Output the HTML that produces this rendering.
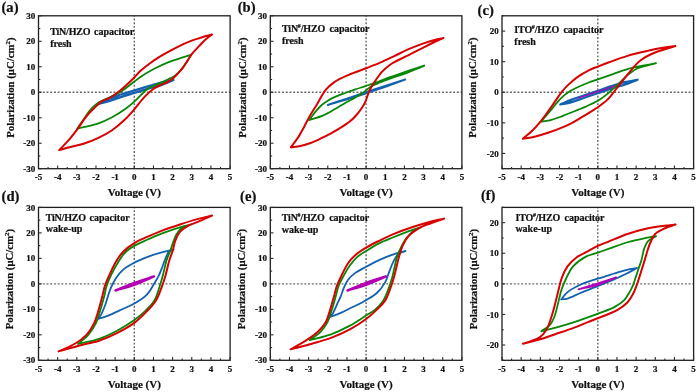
<!DOCTYPE html><html><head><meta charset="utf-8"><style>html,body{margin:0;padding:0;background:#fff;}svg{display:block;will-change:transform;filter:blur(0.25px);}text{font-family:"Liberation Serif",serif;font-weight:bold;fill:#111;stroke:#111;stroke-width:0.22px;}</style></head><body>
<svg width="700" height="392" viewBox="0 0 700 392">
<rect width="700" height="392" fill="#fff"/>
<g>
<line x1="38.50" y1="92.25" x2="230.10" y2="92.25" stroke="#666" stroke-width="1.4" stroke-dasharray="1.9 1.82" stroke-dashoffset="-0.6"/>
<line x1="134.30" y1="15.80" x2="134.30" y2="168.70" stroke="#666" stroke-width="1.4" stroke-dasharray="1.9 1.78" stroke-dashoffset="0.9"/>
<path d="M153.46 86.64 C147.07 88.60 140.68 90.51 134.30 92.50 C127.91 94.50 121.53 96.58 115.14 98.62 C121.53 96.75 127.93 95.00 134.30 93.01 C140.70 91.01 147.07 88.77 153.46 86.64 Z" fill="none" stroke="#b300b3" stroke-width="0.90" stroke-linejoin="round"/>
<path d="M173.58 80.02 C169.43 80.87 165.33 81.54 161.12 82.57 C156.72 83.64 152.18 85.07 147.71 86.39 C143.24 87.71 138.77 89.11 134.30 90.47 C129.83 91.83 125.35 93.10 120.89 94.54 C116.40 95.99 111.63 97.42 107.48 99.13 C103.70 100.68 100.45 102.53 96.94 104.23 C100.45 103.38 103.78 102.76 107.48 101.68 C111.70 100.45 116.40 98.54 120.89 97.09 C125.35 95.65 129.83 94.37 134.30 93.01 C138.77 91.66 143.24 90.26 147.71 88.94 C152.18 87.62 156.78 86.62 161.12 85.11 C165.39 83.64 169.43 81.72 173.58 80.02 Z" fill="none" stroke="#1262b0" stroke-width="2.20" stroke-linejoin="round"/>
<path d="M191.21 54.79 C188.40 55.64 185.94 56.32 182.77 57.34 C178.65 58.67 173.29 60.30 168.60 62.18 C163.77 64.11 158.94 66.33 154.23 68.81 C149.42 71.33 143.67 74.78 140.05 77.21 C137.65 78.82 136.65 79.79 134.30 81.55 C130.59 84.33 124.92 89.24 119.93 92.25 C115.13 95.14 109.04 97.40 104.99 99.39 C102.18 100.76 100.16 101.41 97.90 102.95 C95.41 104.65 93.06 106.81 90.81 109.32 C88.23 112.21 85.85 116.20 83.53 119.52 C81.33 122.65 79.31 125.63 77.20 128.69 C79.31 128.18 80.99 127.78 83.53 127.16 C87.35 126.23 93.19 125.22 97.90 123.59 C102.71 121.93 107.54 119.62 112.07 117.22 C116.54 114.86 121.05 112.07 124.91 109.32 C128.37 106.86 130.91 104.66 134.30 101.68 C138.61 97.88 143.72 91.35 148.48 88.17 C152.29 85.62 156.54 84.64 159.97 83.08 C162.79 81.79 165.23 80.67 167.64 79.51 C169.80 78.46 171.87 77.71 173.77 76.45 C175.70 75.17 177.55 73.44 179.13 71.86 C180.58 70.42 181.68 69.08 182.97 67.40 C184.48 65.42 186.14 62.84 187.56 60.65 C188.87 58.64 189.99 56.74 191.21 54.79 Z" fill="none" stroke="#068806" stroke-width="1.80" stroke-linejoin="round"/>
<path d="M212.09 34.40 C208.07 35.59 204.20 36.61 200.02 37.97 C195.42 39.47 190.36 41.06 185.65 43.07 C180.84 45.12 176.18 47.68 171.47 50.20 C166.66 52.77 161.21 55.77 157.10 58.36 C153.86 60.39 151.45 62.11 148.67 64.22 C145.77 66.42 142.57 68.99 140.05 71.35 C137.87 73.40 136.70 75.09 134.30 77.47 C130.64 81.10 124.49 87.07 119.93 90.72 C116.20 93.70 112.49 96.29 109.20 98.11 C106.67 99.51 104.37 99.75 102.11 101.17 C99.62 102.73 97.44 104.97 95.02 107.29 C92.22 109.97 89.16 113.08 86.40 116.46 C83.39 120.15 80.69 124.79 77.78 128.69 C75.00 132.42 72.37 135.89 69.35 139.39 C66.20 143.04 62.58 146.53 59.19 150.10 C62.58 149.16 65.67 148.26 69.35 147.29 C73.67 146.15 78.83 145.23 83.53 143.73 C88.35 142.19 93.20 140.33 97.90 138.12 C102.72 135.85 107.60 133.29 112.07 130.22 C116.61 127.10 121.07 123.17 124.91 119.52 C128.41 116.19 131.18 112.93 134.30 109.32 C137.63 105.48 140.93 100.62 144.26 97.09 C147.13 94.05 150.03 91.23 152.89 89.19 C155.26 87.50 157.55 86.59 159.97 85.37 C162.46 84.12 165.27 83.13 167.64 81.80 C169.85 80.56 171.87 79.31 173.77 77.72 C175.71 76.10 177.52 73.92 179.13 72.12 C180.55 70.54 181.68 69.25 182.97 67.53 C184.48 65.50 186.14 62.86 187.56 60.65 C188.87 58.63 189.65 56.86 191.21 54.79 C193.24 52.10 196.59 48.77 199.06 46.13 C201.21 43.82 203.01 41.71 205.19 39.75 C207.36 37.81 209.79 36.19 212.09 34.40 Z" fill="none" stroke="#d90000" stroke-width="2.00" stroke-linejoin="round"/>
<rect x="38.50" y="15.80" width="191.60" height="152.90" fill="none" stroke="#1e1e1e" stroke-width="1.3"/>
<line x1="38.50" y1="168.70" x2="38.50" y2="165.50" stroke="#2a2a2a" stroke-width="1.1"/>
<text x="38.50" y="179.90" font-size="9" text-anchor="middle">-5</text>
<line x1="48.08" y1="168.70" x2="48.08" y2="166.90" stroke="#2a2a2a" stroke-width="1.1"/>
<line x1="57.66" y1="168.70" x2="57.66" y2="165.50" stroke="#2a2a2a" stroke-width="1.1"/>
<text x="57.66" y="179.90" font-size="9" text-anchor="middle">-4</text>
<line x1="67.24" y1="168.70" x2="67.24" y2="166.90" stroke="#2a2a2a" stroke-width="1.1"/>
<line x1="76.82" y1="168.70" x2="76.82" y2="165.50" stroke="#2a2a2a" stroke-width="1.1"/>
<text x="76.82" y="179.90" font-size="9" text-anchor="middle">-3</text>
<line x1="86.40" y1="168.70" x2="86.40" y2="166.90" stroke="#2a2a2a" stroke-width="1.1"/>
<line x1="95.98" y1="168.70" x2="95.98" y2="165.50" stroke="#2a2a2a" stroke-width="1.1"/>
<text x="95.98" y="179.90" font-size="9" text-anchor="middle">-2</text>
<line x1="105.56" y1="168.70" x2="105.56" y2="166.90" stroke="#2a2a2a" stroke-width="1.1"/>
<line x1="115.14" y1="168.70" x2="115.14" y2="165.50" stroke="#2a2a2a" stroke-width="1.1"/>
<text x="115.14" y="179.90" font-size="9" text-anchor="middle">-1</text>
<line x1="124.72" y1="168.70" x2="124.72" y2="166.90" stroke="#2a2a2a" stroke-width="1.1"/>
<line x1="134.30" y1="168.70" x2="134.30" y2="165.50" stroke="#2a2a2a" stroke-width="1.1"/>
<text x="134.30" y="179.90" font-size="9" text-anchor="middle">0</text>
<line x1="143.88" y1="168.70" x2="143.88" y2="166.90" stroke="#2a2a2a" stroke-width="1.1"/>
<line x1="153.46" y1="168.70" x2="153.46" y2="165.50" stroke="#2a2a2a" stroke-width="1.1"/>
<text x="153.46" y="179.90" font-size="9" text-anchor="middle">1</text>
<line x1="163.04" y1="168.70" x2="163.04" y2="166.90" stroke="#2a2a2a" stroke-width="1.1"/>
<line x1="172.62" y1="168.70" x2="172.62" y2="165.50" stroke="#2a2a2a" stroke-width="1.1"/>
<text x="172.62" y="179.90" font-size="9" text-anchor="middle">2</text>
<line x1="182.20" y1="168.70" x2="182.20" y2="166.90" stroke="#2a2a2a" stroke-width="1.1"/>
<line x1="191.78" y1="168.70" x2="191.78" y2="165.50" stroke="#2a2a2a" stroke-width="1.1"/>
<text x="191.78" y="179.90" font-size="9" text-anchor="middle">3</text>
<line x1="201.36" y1="168.70" x2="201.36" y2="166.90" stroke="#2a2a2a" stroke-width="1.1"/>
<line x1="210.94" y1="168.70" x2="210.94" y2="165.50" stroke="#2a2a2a" stroke-width="1.1"/>
<text x="210.94" y="179.90" font-size="9" text-anchor="middle">4</text>
<line x1="220.52" y1="168.70" x2="220.52" y2="166.90" stroke="#2a2a2a" stroke-width="1.1"/>
<line x1="230.10" y1="168.70" x2="230.10" y2="165.50" stroke="#2a2a2a" stroke-width="1.1"/>
<text x="230.10" y="179.90" font-size="9" text-anchor="middle">5</text>
<line x1="38.50" y1="168.70" x2="41.70" y2="168.70" stroke="#2a2a2a" stroke-width="1.1"/>
<text x="35.30" y="171.80" font-size="9" text-anchor="end">-30</text>
<line x1="38.50" y1="155.96" x2="40.30" y2="155.96" stroke="#2a2a2a" stroke-width="1.1"/>
<line x1="38.50" y1="143.22" x2="41.70" y2="143.22" stroke="#2a2a2a" stroke-width="1.1"/>
<text x="35.30" y="146.32" font-size="9" text-anchor="end">-20</text>
<line x1="38.50" y1="130.48" x2="40.30" y2="130.48" stroke="#2a2a2a" stroke-width="1.1"/>
<line x1="38.50" y1="117.73" x2="41.70" y2="117.73" stroke="#2a2a2a" stroke-width="1.1"/>
<text x="35.30" y="120.83" font-size="9" text-anchor="end">-10</text>
<line x1="38.50" y1="104.99" x2="40.30" y2="104.99" stroke="#2a2a2a" stroke-width="1.1"/>
<line x1="38.50" y1="92.25" x2="41.70" y2="92.25" stroke="#2a2a2a" stroke-width="1.1"/>
<text x="35.30" y="95.35" font-size="9" text-anchor="end">0</text>
<line x1="38.50" y1="79.51" x2="40.30" y2="79.51" stroke="#2a2a2a" stroke-width="1.1"/>
<line x1="38.50" y1="66.77" x2="41.70" y2="66.77" stroke="#2a2a2a" stroke-width="1.1"/>
<text x="35.30" y="69.87" font-size="9" text-anchor="end">10</text>
<line x1="38.50" y1="54.03" x2="40.30" y2="54.03" stroke="#2a2a2a" stroke-width="1.1"/>
<line x1="38.50" y1="41.28" x2="41.70" y2="41.28" stroke="#2a2a2a" stroke-width="1.1"/>
<text x="35.30" y="44.38" font-size="9" text-anchor="end">20</text>
<line x1="38.50" y1="28.54" x2="40.30" y2="28.54" stroke="#2a2a2a" stroke-width="1.1"/>
<line x1="38.50" y1="15.80" x2="41.70" y2="15.80" stroke="#2a2a2a" stroke-width="1.1"/>
<text x="35.30" y="18.90" font-size="9" text-anchor="end">30</text>
<text x="134.30" y="196.10" font-size="11" text-anchor="middle">Voltage (V)</text>
<text transform="translate(13.80 87.60) rotate(-90)" font-size="10.8" text-anchor="middle">Polarization (μC/cm<tspan font-size="7" dy="-4">2</tspan><tspan dy="4">)</tspan></text>
<text x="50.20" y="34.60" font-size="10"><tspan letter-spacing="-0.2">TiN/HZO</tspan><tspan dx="3.8">capacitor</tspan></text>
<text x="50.20" y="46.60" font-size="10">fresh</text>
<text x="1.50" y="12.10" font-size="14.6">(a)</text>
</g>
<g>
<line x1="270.30" y1="92.25" x2="461.90" y2="92.25" stroke="#666" stroke-width="1.4" stroke-dasharray="1.9 1.82" stroke-dashoffset="-0.6"/>
<line x1="366.10" y1="15.80" x2="366.10" y2="168.70" stroke="#666" stroke-width="1.4" stroke-dasharray="1.9 1.78" stroke-dashoffset="0.9"/>
<path d="M385.26 86.90 C378.87 88.85 372.48 90.77 366.10 92.76 C359.71 94.76 353.33 96.84 346.94 98.88 C353.33 97.01 359.73 95.26 366.10 93.27 C372.50 91.27 378.87 89.02 385.26 86.90 Z" fill="none" stroke="#b300b3" stroke-width="0.80" stroke-linejoin="round"/>
<path d="M405.19 79.51 C398.54 81.63 391.83 83.74 385.26 85.88 C378.80 87.98 372.49 90.13 366.10 92.25 C359.71 94.37 353.33 96.50 346.94 98.62 C340.55 100.74 334.17 102.87 327.78 104.99 C334.17 103.12 340.57 101.34 346.94 99.39 C353.34 97.43 359.72 95.35 366.10 93.27 C372.49 91.19 378.83 89.16 385.26 86.90 C391.86 84.58 398.54 81.97 405.19 79.51 Z" fill="none" stroke="#1262b0" stroke-width="2.00" stroke-linejoin="round"/>
<path d="M424.15 65.49 C418.85 67.28 413.73 68.97 408.25 70.84 C402.38 72.86 395.58 75.21 390.05 77.21 C385.39 78.91 381.35 80.57 377.21 82.06 C373.39 83.44 369.77 84.64 366.10 85.88 C362.50 87.10 358.89 88.24 355.37 89.45 C351.93 90.62 348.59 91.79 345.22 93.01 C341.82 94.25 338.13 95.46 335.06 96.84 C332.39 98.03 330.02 99.28 327.78 100.66 C325.71 101.93 323.92 103.11 322.03 104.74 C319.88 106.59 317.76 108.94 315.71 111.36 C313.47 114.00 311.37 117.14 309.19 120.03 C313.73 118.58 318.46 117.54 322.80 115.69 C327.08 113.87 331.19 111.28 335.06 109.07 C338.63 107.03 341.81 104.92 345.22 102.95 C348.58 101.01 352.18 99.21 355.37 97.35 C358.28 95.64 361.02 94.07 363.61 92.25 C366.11 90.49 368.30 88.13 370.70 86.64 C372.84 85.32 374.65 84.67 377.21 83.59 C380.75 82.09 385.39 80.44 390.05 78.74 C395.58 76.73 402.41 74.56 408.25 72.37 C413.76 70.31 418.85 68.13 424.15 66.00 Z" fill="none" stroke="#068806" stroke-width="1.80" stroke-linejoin="round"/>
<path d="M443.51 37.97 C441.40 38.40 439.70 38.61 437.18 39.24 C433.34 40.21 427.55 41.93 422.81 43.58 C418.04 45.24 413.34 47.13 408.64 49.18 C403.82 51.28 399.04 53.80 394.27 56.06 C389.53 58.30 384.83 60.63 380.09 62.69 C375.44 64.71 371.03 66.37 366.10 68.30 C360.62 70.44 354.14 72.53 348.66 74.92 C343.59 77.14 338.32 79.30 334.29 82.06 C330.86 84.41 328.33 86.71 325.67 89.96 C322.49 93.84 319.79 99.74 317.05 104.23 C314.58 108.27 312.14 111.88 309.96 115.69 C307.87 119.35 306.14 123.10 304.21 126.65 C302.37 130.06 300.78 133.28 298.66 136.59 C296.36 140.16 293.42 143.73 290.80 147.29 C293.99 146.87 297.17 146.71 300.38 146.02 C303.75 145.29 307.17 144.21 310.54 142.96 C314.01 141.67 317.47 139.99 320.88 138.37 C324.30 136.76 327.68 135.09 331.04 133.28 C334.45 131.44 338.02 129.41 341.19 127.42 C344.12 125.58 346.98 123.78 349.43 121.81 C351.65 120.03 353.44 118.29 355.37 116.20 C357.48 113.92 359.76 111.14 361.50 108.56 C363.09 106.20 364.48 103.76 365.53 101.42 C366.46 99.35 366.87 97.34 367.63 95.31 C368.40 93.26 369.08 91.25 370.12 89.19 C371.27 86.92 372.70 84.78 374.34 82.31 C376.35 79.27 378.76 75.34 381.43 72.37 C384.02 69.49 387.61 66.52 390.05 64.73 C391.64 63.56 392.41 63.20 394.27 62.18 C397.60 60.35 403.86 57.43 408.64 55.04 C413.38 52.67 418.07 50.28 422.81 47.91 C427.58 45.52 433.35 42.58 437.18 40.77 C439.70 39.59 441.40 38.90 443.51 37.97 Z" fill="none" stroke="#d90000" stroke-width="2.00" stroke-linejoin="round"/>
<rect x="270.30" y="15.80" width="191.60" height="152.90" fill="none" stroke="#1e1e1e" stroke-width="1.3"/>
<line x1="270.30" y1="168.70" x2="270.30" y2="165.50" stroke="#2a2a2a" stroke-width="1.1"/>
<text x="270.30" y="179.90" font-size="9" text-anchor="middle">-5</text>
<line x1="279.88" y1="168.70" x2="279.88" y2="166.90" stroke="#2a2a2a" stroke-width="1.1"/>
<line x1="289.46" y1="168.70" x2="289.46" y2="165.50" stroke="#2a2a2a" stroke-width="1.1"/>
<text x="289.46" y="179.90" font-size="9" text-anchor="middle">-4</text>
<line x1="299.04" y1="168.70" x2="299.04" y2="166.90" stroke="#2a2a2a" stroke-width="1.1"/>
<line x1="308.62" y1="168.70" x2="308.62" y2="165.50" stroke="#2a2a2a" stroke-width="1.1"/>
<text x="308.62" y="179.90" font-size="9" text-anchor="middle">-3</text>
<line x1="318.20" y1="168.70" x2="318.20" y2="166.90" stroke="#2a2a2a" stroke-width="1.1"/>
<line x1="327.78" y1="168.70" x2="327.78" y2="165.50" stroke="#2a2a2a" stroke-width="1.1"/>
<text x="327.78" y="179.90" font-size="9" text-anchor="middle">-2</text>
<line x1="337.36" y1="168.70" x2="337.36" y2="166.90" stroke="#2a2a2a" stroke-width="1.1"/>
<line x1="346.94" y1="168.70" x2="346.94" y2="165.50" stroke="#2a2a2a" stroke-width="1.1"/>
<text x="346.94" y="179.90" font-size="9" text-anchor="middle">-1</text>
<line x1="356.52" y1="168.70" x2="356.52" y2="166.90" stroke="#2a2a2a" stroke-width="1.1"/>
<line x1="366.10" y1="168.70" x2="366.10" y2="165.50" stroke="#2a2a2a" stroke-width="1.1"/>
<text x="366.10" y="179.90" font-size="9" text-anchor="middle">0</text>
<line x1="375.68" y1="168.70" x2="375.68" y2="166.90" stroke="#2a2a2a" stroke-width="1.1"/>
<line x1="385.26" y1="168.70" x2="385.26" y2="165.50" stroke="#2a2a2a" stroke-width="1.1"/>
<text x="385.26" y="179.90" font-size="9" text-anchor="middle">1</text>
<line x1="394.84" y1="168.70" x2="394.84" y2="166.90" stroke="#2a2a2a" stroke-width="1.1"/>
<line x1="404.42" y1="168.70" x2="404.42" y2="165.50" stroke="#2a2a2a" stroke-width="1.1"/>
<text x="404.42" y="179.90" font-size="9" text-anchor="middle">2</text>
<line x1="414.00" y1="168.70" x2="414.00" y2="166.90" stroke="#2a2a2a" stroke-width="1.1"/>
<line x1="423.58" y1="168.70" x2="423.58" y2="165.50" stroke="#2a2a2a" stroke-width="1.1"/>
<text x="423.58" y="179.90" font-size="9" text-anchor="middle">3</text>
<line x1="433.16" y1="168.70" x2="433.16" y2="166.90" stroke="#2a2a2a" stroke-width="1.1"/>
<line x1="442.74" y1="168.70" x2="442.74" y2="165.50" stroke="#2a2a2a" stroke-width="1.1"/>
<text x="442.74" y="179.90" font-size="9" text-anchor="middle">4</text>
<line x1="452.32" y1="168.70" x2="452.32" y2="166.90" stroke="#2a2a2a" stroke-width="1.1"/>
<line x1="461.90" y1="168.70" x2="461.90" y2="165.50" stroke="#2a2a2a" stroke-width="1.1"/>
<text x="461.90" y="179.90" font-size="9" text-anchor="middle">5</text>
<line x1="270.30" y1="168.70" x2="273.50" y2="168.70" stroke="#2a2a2a" stroke-width="1.1"/>
<text x="267.10" y="171.80" font-size="9" text-anchor="end">-30</text>
<line x1="270.30" y1="155.96" x2="272.10" y2="155.96" stroke="#2a2a2a" stroke-width="1.1"/>
<line x1="270.30" y1="143.22" x2="273.50" y2="143.22" stroke="#2a2a2a" stroke-width="1.1"/>
<text x="267.10" y="146.32" font-size="9" text-anchor="end">-20</text>
<line x1="270.30" y1="130.48" x2="272.10" y2="130.48" stroke="#2a2a2a" stroke-width="1.1"/>
<line x1="270.30" y1="117.73" x2="273.50" y2="117.73" stroke="#2a2a2a" stroke-width="1.1"/>
<text x="267.10" y="120.83" font-size="9" text-anchor="end">-10</text>
<line x1="270.30" y1="104.99" x2="272.10" y2="104.99" stroke="#2a2a2a" stroke-width="1.1"/>
<line x1="270.30" y1="92.25" x2="273.50" y2="92.25" stroke="#2a2a2a" stroke-width="1.1"/>
<text x="267.10" y="95.35" font-size="9" text-anchor="end">0</text>
<line x1="270.30" y1="79.51" x2="272.10" y2="79.51" stroke="#2a2a2a" stroke-width="1.1"/>
<line x1="270.30" y1="66.77" x2="273.50" y2="66.77" stroke="#2a2a2a" stroke-width="1.1"/>
<text x="267.10" y="69.87" font-size="9" text-anchor="end">10</text>
<line x1="270.30" y1="54.03" x2="272.10" y2="54.03" stroke="#2a2a2a" stroke-width="1.1"/>
<line x1="270.30" y1="41.28" x2="273.50" y2="41.28" stroke="#2a2a2a" stroke-width="1.1"/>
<text x="267.10" y="44.38" font-size="9" text-anchor="end">20</text>
<line x1="270.30" y1="28.54" x2="272.10" y2="28.54" stroke="#2a2a2a" stroke-width="1.1"/>
<line x1="270.30" y1="15.80" x2="273.50" y2="15.80" stroke="#2a2a2a" stroke-width="1.1"/>
<text x="267.10" y="18.90" font-size="9" text-anchor="end">30</text>
<text x="366.10" y="196.10" font-size="11" text-anchor="middle">Voltage (V)</text>
<text transform="translate(245.80 87.60) rotate(-90)" font-size="10.8" text-anchor="middle">Polarization (μC/cm<tspan font-size="7" dy="-4">2</tspan><tspan dy="4">)</tspan></text>
<text x="282.00" y="32.10" font-size="10"><tspan letter-spacing="-0.15">TiN</tspan><tspan font-size="5.8" dy="-4" dx="-0.2">#</tspan><tspan dy="4" dx="-0.1" letter-spacing="-0.15">/HZO</tspan><tspan dx="4.4">capacitor</tspan></text>
<text x="282.00" y="44.10" font-size="10">fresh</text>
<text x="237.70" y="12.10" font-size="14.6">(b)</text>
</g>
<g>
<line x1="502.00" y1="92.25" x2="693.60" y2="92.25" stroke="#666" stroke-width="1.4" stroke-dasharray="1.9 1.82" stroke-dashoffset="-0.6"/>
<line x1="597.80" y1="15.80" x2="597.80" y2="168.70" stroke="#666" stroke-width="1.4" stroke-dasharray="1.9 1.78" stroke-dashoffset="0.9"/>
<path d="M637.65 79.71 C633.31 80.53 628.97 81.11 624.62 82.16 C620.16 83.24 615.67 84.71 611.21 86.13 C606.73 87.57 602.27 89.19 597.80 90.72 C593.33 92.25 588.86 93.78 584.39 95.31 C579.92 96.84 575.17 98.28 570.98 99.90 C567.17 101.36 563.82 102.95 560.25 104.48 C563.82 103.77 567.24 103.35 570.98 102.34 C575.23 101.19 579.92 99.28 584.39 97.75 C588.86 96.23 593.33 94.70 597.80 93.17 C602.27 91.64 606.73 90.01 611.21 88.58 C615.67 87.16 620.21 86.09 624.62 84.61 C629.03 83.13 633.31 81.34 637.65 79.71 Z" fill="none" stroke="#1262b0" stroke-width="2.20" stroke-linejoin="round"/>
<path d="M616.96 85.22 C610.57 87.26 604.26 89.22 597.80 91.33 C591.17 93.50 584.39 95.82 577.68 98.06 C584.39 96.02 591.20 94.11 597.80 91.94 C604.29 89.82 610.57 87.46 616.96 85.22 Z" fill="none" stroke="#b300b3" stroke-width="0.80" stroke-linejoin="round"/>
<path d="M656.05 63.20 C652.66 63.81 649.77 64.26 645.89 65.03 C640.66 66.07 633.50 67.32 627.50 69.01 C621.55 70.69 615.36 73.27 610.06 75.13 C605.62 76.68 601.63 78.06 597.80 79.41 C594.41 80.59 591.44 81.53 588.22 82.77 C584.86 84.07 581.21 85.60 578.07 87.05 C575.25 88.35 572.77 89.42 570.21 91.03 C567.46 92.75 564.62 94.92 562.16 97.14 C559.77 99.31 557.80 101.70 555.65 104.18 C553.39 106.78 551.28 109.62 548.94 112.43 C546.45 115.43 543.70 118.55 541.09 121.61 C543.51 121.30 545.68 121.27 548.37 120.69 C551.83 119.93 556.72 118.23 560.05 117.02 C562.62 116.09 564.21 115.29 566.76 114.27 C570.11 112.92 575.09 111.03 578.45 109.68 C581.00 108.66 582.59 108.07 585.15 106.93 C588.73 105.33 593.99 103.08 597.80 100.81 C601.26 98.76 604.00 96.66 607.19 94.08 C610.82 91.15 614.80 87.27 618.30 83.99 C621.54 80.97 624.33 77.73 627.50 75.13 C630.47 72.68 633.50 70.25 636.69 68.70 C639.65 67.28 642.74 66.85 645.89 65.95 C649.19 65.01 652.66 64.12 656.05 63.20 Z" fill="none" stroke="#068806" stroke-width="1.80" stroke-linejoin="round"/>
<path d="M675.40 46.07 C671.69 46.58 668.44 46.90 664.29 47.60 C658.91 48.51 652.01 49.90 645.89 51.27 C639.74 52.65 633.59 54.04 627.50 55.86 C621.32 57.70 614.48 60.32 609.10 62.28 C604.87 63.82 601.40 65.13 597.80 66.56 C594.46 67.89 591.40 68.93 588.22 70.54 C584.82 72.26 581.32 74.35 578.07 76.65 C574.73 79.02 571.28 81.98 568.49 84.61 C566.08 86.87 564.24 88.78 562.16 91.33 C559.76 94.28 557.44 98.06 555.07 101.42 C552.71 104.79 550.39 108.19 547.98 111.52 C545.60 114.82 543.28 118.15 540.70 121.30 C538.11 124.47 535.41 127.59 532.46 130.48 C529.48 133.40 526.08 135.98 522.88 138.73 C526.08 138.22 528.79 138.04 532.46 137.20 C537.64 136.02 544.77 133.82 550.86 131.70 C557.04 129.55 563.94 126.91 569.25 124.36 C573.56 122.29 576.96 120.05 580.56 117.94 C583.90 115.98 587.13 114.00 590.14 112.13 C592.84 110.44 595.16 109.10 597.80 107.23 C600.82 105.10 604.55 102.43 607.19 99.90 C609.47 97.71 611.08 95.46 612.94 93.17 C614.79 90.87 616.34 88.62 618.30 86.13 C620.57 83.26 623.31 80.03 625.77 76.96 C628.23 73.91 630.55 70.61 633.05 67.79 C635.41 65.13 637.48 62.64 640.34 60.45 C643.51 58.00 647.52 55.84 651.45 54.03 C655.49 52.15 660.14 50.80 664.29 49.44 C668.11 48.18 671.69 47.20 675.40 46.07 Z" fill="none" stroke="#d90000" stroke-width="2.00" stroke-linejoin="round"/>
<rect x="502.00" y="15.80" width="191.60" height="152.90" fill="none" stroke="#1e1e1e" stroke-width="1.3"/>
<line x1="502.00" y1="168.70" x2="502.00" y2="165.50" stroke="#2a2a2a" stroke-width="1.1"/>
<text x="502.00" y="179.90" font-size="9" text-anchor="middle">-5</text>
<line x1="511.58" y1="168.70" x2="511.58" y2="166.90" stroke="#2a2a2a" stroke-width="1.1"/>
<line x1="521.16" y1="168.70" x2="521.16" y2="165.50" stroke="#2a2a2a" stroke-width="1.1"/>
<text x="521.16" y="179.90" font-size="9" text-anchor="middle">-4</text>
<line x1="530.74" y1="168.70" x2="530.74" y2="166.90" stroke="#2a2a2a" stroke-width="1.1"/>
<line x1="540.32" y1="168.70" x2="540.32" y2="165.50" stroke="#2a2a2a" stroke-width="1.1"/>
<text x="540.32" y="179.90" font-size="9" text-anchor="middle">-3</text>
<line x1="549.90" y1="168.70" x2="549.90" y2="166.90" stroke="#2a2a2a" stroke-width="1.1"/>
<line x1="559.48" y1="168.70" x2="559.48" y2="165.50" stroke="#2a2a2a" stroke-width="1.1"/>
<text x="559.48" y="179.90" font-size="9" text-anchor="middle">-2</text>
<line x1="569.06" y1="168.70" x2="569.06" y2="166.90" stroke="#2a2a2a" stroke-width="1.1"/>
<line x1="578.64" y1="168.70" x2="578.64" y2="165.50" stroke="#2a2a2a" stroke-width="1.1"/>
<text x="578.64" y="179.90" font-size="9" text-anchor="middle">-1</text>
<line x1="588.22" y1="168.70" x2="588.22" y2="166.90" stroke="#2a2a2a" stroke-width="1.1"/>
<line x1="597.80" y1="168.70" x2="597.80" y2="165.50" stroke="#2a2a2a" stroke-width="1.1"/>
<text x="597.80" y="179.90" font-size="9" text-anchor="middle">0</text>
<line x1="607.38" y1="168.70" x2="607.38" y2="166.90" stroke="#2a2a2a" stroke-width="1.1"/>
<line x1="616.96" y1="168.70" x2="616.96" y2="165.50" stroke="#2a2a2a" stroke-width="1.1"/>
<text x="616.96" y="179.90" font-size="9" text-anchor="middle">1</text>
<line x1="626.54" y1="168.70" x2="626.54" y2="166.90" stroke="#2a2a2a" stroke-width="1.1"/>
<line x1="636.12" y1="168.70" x2="636.12" y2="165.50" stroke="#2a2a2a" stroke-width="1.1"/>
<text x="636.12" y="179.90" font-size="9" text-anchor="middle">2</text>
<line x1="645.70" y1="168.70" x2="645.70" y2="166.90" stroke="#2a2a2a" stroke-width="1.1"/>
<line x1="655.28" y1="168.70" x2="655.28" y2="165.50" stroke="#2a2a2a" stroke-width="1.1"/>
<text x="655.28" y="179.90" font-size="9" text-anchor="middle">3</text>
<line x1="664.86" y1="168.70" x2="664.86" y2="166.90" stroke="#2a2a2a" stroke-width="1.1"/>
<line x1="674.44" y1="168.70" x2="674.44" y2="165.50" stroke="#2a2a2a" stroke-width="1.1"/>
<text x="674.44" y="179.90" font-size="9" text-anchor="middle">4</text>
<line x1="684.02" y1="168.70" x2="684.02" y2="166.90" stroke="#2a2a2a" stroke-width="1.1"/>
<line x1="693.60" y1="168.70" x2="693.60" y2="165.50" stroke="#2a2a2a" stroke-width="1.1"/>
<text x="693.60" y="179.90" font-size="9" text-anchor="middle">5</text>
<line x1="502.00" y1="168.70" x2="503.80" y2="168.70" stroke="#2a2a2a" stroke-width="1.1"/>
<line x1="502.00" y1="153.41" x2="505.20" y2="153.41" stroke="#2a2a2a" stroke-width="1.1"/>
<text x="498.80" y="156.51" font-size="9" text-anchor="end">-20</text>
<line x1="502.00" y1="138.12" x2="503.80" y2="138.12" stroke="#2a2a2a" stroke-width="1.1"/>
<line x1="502.00" y1="122.83" x2="505.20" y2="122.83" stroke="#2a2a2a" stroke-width="1.1"/>
<text x="498.80" y="125.93" font-size="9" text-anchor="end">-10</text>
<line x1="502.00" y1="107.54" x2="503.80" y2="107.54" stroke="#2a2a2a" stroke-width="1.1"/>
<line x1="502.00" y1="92.25" x2="505.20" y2="92.25" stroke="#2a2a2a" stroke-width="1.1"/>
<text x="498.80" y="95.35" font-size="9" text-anchor="end">0</text>
<line x1="502.00" y1="76.96" x2="503.80" y2="76.96" stroke="#2a2a2a" stroke-width="1.1"/>
<line x1="502.00" y1="61.67" x2="505.20" y2="61.67" stroke="#2a2a2a" stroke-width="1.1"/>
<text x="498.80" y="64.77" font-size="9" text-anchor="end">10</text>
<line x1="502.00" y1="46.38" x2="503.80" y2="46.38" stroke="#2a2a2a" stroke-width="1.1"/>
<line x1="502.00" y1="31.09" x2="505.20" y2="31.09" stroke="#2a2a2a" stroke-width="1.1"/>
<text x="498.80" y="34.19" font-size="9" text-anchor="end">20</text>
<line x1="502.00" y1="15.80" x2="503.80" y2="15.80" stroke="#2a2a2a" stroke-width="1.1"/>
<text x="597.80" y="196.10" font-size="11" text-anchor="middle">Voltage (V)</text>
<text transform="translate(476.30 87.60) rotate(-90)" font-size="10.8" text-anchor="middle">Polarization (μC/cm<tspan font-size="7" dy="-4">2</tspan><tspan dy="4">)</tspan></text>
<text x="514.30" y="32.90" font-size="10"><tspan letter-spacing="-0.15">ITO</tspan><tspan font-size="5.8" dy="-4" dx="-0.2">#</tspan><tspan dy="4" dx="-0.1" letter-spacing="-0.15">/HZO</tspan><tspan dx="4.4">capacitor</tspan></text>
<text x="514.30" y="44.90" font-size="10">fresh</text>
<text x="477.60" y="14.80" font-size="14.6">(c)</text>
</g>
<g>
<line x1="38.50" y1="283.85" x2="230.10" y2="283.85" stroke="#666" stroke-width="1.4" stroke-dasharray="1.9 1.82" stroke-dashoffset="-0.6"/>
<line x1="134.30" y1="207.40" x2="134.30" y2="360.30" stroke="#666" stroke-width="1.4" stroke-dasharray="1.9 1.78" stroke-dashoffset="0.9"/>
<path d="M173.58 249.70 C169.04 250.72 164.41 251.52 159.97 252.76 C155.60 253.99 151.38 255.45 147.14 257.09 C142.82 258.76 138.35 260.57 134.30 262.70 C130.38 264.75 126.32 266.87 123.19 269.58 C120.27 272.10 118.02 275.05 115.91 278.24 C113.71 281.57 112.00 285.21 110.35 289.20 C108.50 293.69 107.24 299.46 105.56 303.98 C104.09 307.94 102.41 312.22 100.96 314.94 C100.03 316.68 99.17 317.66 98.28 319.02 C101.60 317.91 104.88 317.04 108.24 315.70 C111.84 314.27 115.23 312.45 119.16 310.61 C123.80 308.43 129.61 306.19 134.30 303.47 C138.77 300.89 143.40 298.23 146.75 294.81 C149.87 291.62 151.97 287.14 154.03 283.85 C155.67 281.24 157.01 279.18 158.25 276.71 C159.50 274.25 160.43 271.75 161.51 269.07 C162.67 266.16 163.70 262.81 164.96 259.90 C166.14 257.14 167.07 253.70 168.79 252.00 C170.12 250.67 171.98 250.47 173.58 249.70 Z" fill="none" stroke="#1262b0" stroke-width="1.80" stroke-linejoin="round"/>
<path d="M191.01 224.47 C187.31 225.41 184.04 226.04 179.90 227.28 C174.51 228.89 167.23 231.44 161.51 233.65 C156.39 235.62 151.77 237.68 147.14 239.76 C142.72 241.76 138.13 243.61 134.30 245.88 C130.88 247.91 127.80 249.80 125.10 252.51 C122.27 255.35 120.08 259.09 117.82 262.70 C115.47 266.46 113.21 270.72 111.31 274.68 C109.54 278.36 107.92 281.89 106.71 285.63 C105.50 289.36 105.07 293.10 104.03 297.10 C102.87 301.55 101.46 306.55 100.00 311.12 C98.58 315.55 97.42 320.08 95.41 324.11 C93.44 328.05 91.00 331.78 88.12 335.07 C85.21 338.41 81.35 341.02 77.97 343.99 C84.99 342.29 92.36 341.21 99.05 338.89 C105.50 336.66 111.54 333.65 117.44 330.48 C123.28 327.35 129.44 323.52 134.30 320.04 C138.33 317.15 141.53 314.58 144.84 311.37 C148.25 308.06 152.01 304.44 154.42 300.41 C156.75 296.52 157.77 291.97 159.21 287.67 C160.64 283.39 161.83 279.16 163.04 274.68 C164.33 269.92 165.34 264.06 166.68 259.90 C167.70 256.74 168.94 254.45 169.94 251.74 C170.91 249.10 171.62 246.56 172.62 243.84 C173.71 240.88 174.65 237.36 176.26 234.67 C177.77 232.14 179.47 229.72 181.82 228.04 C184.32 226.25 187.95 225.66 191.01 224.47 Z" fill="none" stroke="#068806" stroke-width="1.80" stroke-linejoin="round"/>
<path d="M212.09 215.55 C207.49 216.66 203.20 217.53 198.29 218.87 C192.58 220.42 186.01 222.48 179.90 224.47 C173.75 226.48 167.23 228.64 161.51 230.84 C156.39 232.82 151.77 234.87 147.14 236.96 C142.72 238.95 138.30 240.61 134.30 243.08 C130.32 245.54 126.32 248.51 123.19 251.74 C120.26 254.76 118.10 258.04 115.91 261.68 C113.53 265.62 111.47 270.50 109.58 274.68 C107.87 278.46 106.23 281.89 104.99 285.63 C103.74 289.37 103.16 293.09 102.11 297.10 C100.95 301.54 99.71 306.56 98.28 311.12 C96.89 315.56 95.72 320.09 93.68 324.11 C91.68 328.06 89.23 331.87 86.21 335.07 C83.12 338.34 79.47 340.92 75.29 343.48 C70.45 346.44 64.17 348.75 58.62 351.38 C65.96 349.34 73.63 347.12 80.65 345.26 C87.05 343.58 93.00 342.72 99.05 340.68 C105.26 338.58 111.53 335.77 117.44 332.78 C123.28 329.82 129.28 326.57 134.30 322.84 C138.97 319.37 143.03 315.27 146.75 311.37 C150.18 307.79 153.48 304.40 155.95 300.41 C158.38 296.49 159.89 291.91 161.51 287.67 C163.06 283.59 164.29 279.72 165.53 275.44 C166.87 270.83 167.87 265.27 169.17 260.92 C170.26 257.26 171.60 254.35 172.62 250.98 C173.65 247.56 174.04 243.78 175.30 240.53 C176.50 237.43 177.87 234.27 179.90 231.86 C181.86 229.54 184.38 227.88 187.18 226.26 C190.39 224.40 194.40 223.34 198.29 221.67 C202.66 219.80 207.49 217.59 212.09 215.55 Z" fill="none" stroke="#d90000" stroke-width="2.00" stroke-linejoin="round"/>
<path d="M154.03 276.46 C147.46 278.58 140.75 280.48 134.30 282.83 C127.92 285.16 121.78 287.93 115.52 290.48 C121.78 288.61 128.03 287.13 134.30 284.87 C140.86 282.50 147.46 279.26 154.03 276.46 Z" fill="none" stroke="#b300b3" stroke-width="2.40" stroke-linejoin="round"/>
<rect x="38.50" y="207.40" width="191.60" height="152.90" fill="none" stroke="#1e1e1e" stroke-width="1.3"/>
<line x1="38.50" y1="360.30" x2="38.50" y2="357.10" stroke="#2a2a2a" stroke-width="1.1"/>
<text x="38.50" y="371.50" font-size="9" text-anchor="middle">-5</text>
<line x1="48.08" y1="360.30" x2="48.08" y2="358.50" stroke="#2a2a2a" stroke-width="1.1"/>
<line x1="57.66" y1="360.30" x2="57.66" y2="357.10" stroke="#2a2a2a" stroke-width="1.1"/>
<text x="57.66" y="371.50" font-size="9" text-anchor="middle">-4</text>
<line x1="67.24" y1="360.30" x2="67.24" y2="358.50" stroke="#2a2a2a" stroke-width="1.1"/>
<line x1="76.82" y1="360.30" x2="76.82" y2="357.10" stroke="#2a2a2a" stroke-width="1.1"/>
<text x="76.82" y="371.50" font-size="9" text-anchor="middle">-3</text>
<line x1="86.40" y1="360.30" x2="86.40" y2="358.50" stroke="#2a2a2a" stroke-width="1.1"/>
<line x1="95.98" y1="360.30" x2="95.98" y2="357.10" stroke="#2a2a2a" stroke-width="1.1"/>
<text x="95.98" y="371.50" font-size="9" text-anchor="middle">-2</text>
<line x1="105.56" y1="360.30" x2="105.56" y2="358.50" stroke="#2a2a2a" stroke-width="1.1"/>
<line x1="115.14" y1="360.30" x2="115.14" y2="357.10" stroke="#2a2a2a" stroke-width="1.1"/>
<text x="115.14" y="371.50" font-size="9" text-anchor="middle">-1</text>
<line x1="124.72" y1="360.30" x2="124.72" y2="358.50" stroke="#2a2a2a" stroke-width="1.1"/>
<line x1="134.30" y1="360.30" x2="134.30" y2="357.10" stroke="#2a2a2a" stroke-width="1.1"/>
<text x="134.30" y="371.50" font-size="9" text-anchor="middle">0</text>
<line x1="143.88" y1="360.30" x2="143.88" y2="358.50" stroke="#2a2a2a" stroke-width="1.1"/>
<line x1="153.46" y1="360.30" x2="153.46" y2="357.10" stroke="#2a2a2a" stroke-width="1.1"/>
<text x="153.46" y="371.50" font-size="9" text-anchor="middle">1</text>
<line x1="163.04" y1="360.30" x2="163.04" y2="358.50" stroke="#2a2a2a" stroke-width="1.1"/>
<line x1="172.62" y1="360.30" x2="172.62" y2="357.10" stroke="#2a2a2a" stroke-width="1.1"/>
<text x="172.62" y="371.50" font-size="9" text-anchor="middle">2</text>
<line x1="182.20" y1="360.30" x2="182.20" y2="358.50" stroke="#2a2a2a" stroke-width="1.1"/>
<line x1="191.78" y1="360.30" x2="191.78" y2="357.10" stroke="#2a2a2a" stroke-width="1.1"/>
<text x="191.78" y="371.50" font-size="9" text-anchor="middle">3</text>
<line x1="201.36" y1="360.30" x2="201.36" y2="358.50" stroke="#2a2a2a" stroke-width="1.1"/>
<line x1="210.94" y1="360.30" x2="210.94" y2="357.10" stroke="#2a2a2a" stroke-width="1.1"/>
<text x="210.94" y="371.50" font-size="9" text-anchor="middle">4</text>
<line x1="220.52" y1="360.30" x2="220.52" y2="358.50" stroke="#2a2a2a" stroke-width="1.1"/>
<line x1="230.10" y1="360.30" x2="230.10" y2="357.10" stroke="#2a2a2a" stroke-width="1.1"/>
<text x="230.10" y="371.50" font-size="9" text-anchor="middle">5</text>
<line x1="38.50" y1="360.30" x2="41.70" y2="360.30" stroke="#2a2a2a" stroke-width="1.1"/>
<text x="35.30" y="363.40" font-size="9" text-anchor="end">-30</text>
<line x1="38.50" y1="347.56" x2="40.30" y2="347.56" stroke="#2a2a2a" stroke-width="1.1"/>
<line x1="38.50" y1="334.82" x2="41.70" y2="334.82" stroke="#2a2a2a" stroke-width="1.1"/>
<text x="35.30" y="337.92" font-size="9" text-anchor="end">-20</text>
<line x1="38.50" y1="322.08" x2="40.30" y2="322.08" stroke="#2a2a2a" stroke-width="1.1"/>
<line x1="38.50" y1="309.33" x2="41.70" y2="309.33" stroke="#2a2a2a" stroke-width="1.1"/>
<text x="35.30" y="312.43" font-size="9" text-anchor="end">-10</text>
<line x1="38.50" y1="296.59" x2="40.30" y2="296.59" stroke="#2a2a2a" stroke-width="1.1"/>
<line x1="38.50" y1="283.85" x2="41.70" y2="283.85" stroke="#2a2a2a" stroke-width="1.1"/>
<text x="35.30" y="286.95" font-size="9" text-anchor="end">0</text>
<line x1="38.50" y1="271.11" x2="40.30" y2="271.11" stroke="#2a2a2a" stroke-width="1.1"/>
<line x1="38.50" y1="258.37" x2="41.70" y2="258.37" stroke="#2a2a2a" stroke-width="1.1"/>
<text x="35.30" y="261.47" font-size="9" text-anchor="end">10</text>
<line x1="38.50" y1="245.62" x2="40.30" y2="245.62" stroke="#2a2a2a" stroke-width="1.1"/>
<line x1="38.50" y1="232.88" x2="41.70" y2="232.88" stroke="#2a2a2a" stroke-width="1.1"/>
<text x="35.30" y="235.98" font-size="9" text-anchor="end">20</text>
<line x1="38.50" y1="220.14" x2="40.30" y2="220.14" stroke="#2a2a2a" stroke-width="1.1"/>
<line x1="38.50" y1="207.40" x2="41.70" y2="207.40" stroke="#2a2a2a" stroke-width="1.1"/>
<text x="35.30" y="210.50" font-size="9" text-anchor="end">30</text>
<text x="134.30" y="387.70" font-size="11" text-anchor="middle">Voltage (V)</text>
<text transform="translate(13.30 279.00) rotate(-90)" font-size="10.8" text-anchor="middle">Polarization (μC/cm<tspan font-size="7" dy="-4">2</tspan><tspan dy="4">)</tspan></text>
<text x="45.70" y="220.90" font-size="10"><tspan letter-spacing="-0.2">TiN/HZO</tspan><tspan dx="3.8">capacitor</tspan></text>
<text x="45.70" y="232.30" font-size="10">wake-up</text>
<text x="1.60" y="200.50" font-size="14.6">(d)</text>
</g>
<g>
<line x1="270.30" y1="283.85" x2="461.90" y2="283.85" stroke="#666" stroke-width="1.4" stroke-dasharray="1.9 1.82" stroke-dashoffset="-0.6"/>
<line x1="366.10" y1="207.40" x2="366.10" y2="360.30" stroke="#666" stroke-width="1.4" stroke-dasharray="1.9 1.78" stroke-dashoffset="0.9"/>
<path d="M405.57 250.98 C401.29 252.17 397.00 253.09 392.73 254.54 C388.32 256.05 383.89 257.89 379.51 259.90 C375.01 261.96 370.34 264.48 366.10 266.78 C362.20 268.90 358.15 270.76 354.99 273.15 C352.21 275.24 349.84 277.38 347.90 280.03 C345.92 282.72 344.56 286.27 343.30 289.20 C342.20 291.76 341.60 294.22 340.62 296.59 C339.67 298.88 338.68 300.79 337.55 303.22 C336.17 306.20 334.59 310.66 332.95 313.16 C331.79 314.92 330.53 315.87 329.31 317.23 C332.95 315.87 336.63 314.71 340.23 313.16 C343.91 311.57 347.24 309.77 351.16 307.80 C355.76 305.50 361.60 302.80 366.10 300.16 C370.04 297.85 373.68 295.97 376.83 293.02 C380.09 289.98 383.14 285.83 385.26 282.07 C387.16 278.68 387.91 275.07 389.28 271.62 C390.65 268.19 391.91 264.46 393.50 261.42 C394.89 258.76 396.06 256.04 398.10 254.29 C400.10 252.58 403.08 252.08 405.57 250.98 Z" fill="none" stroke="#1262b0" stroke-width="1.80" stroke-linejoin="round"/>
<path d="M421.09 227.28 C418.02 228.21 415.49 228.84 411.89 230.08 C406.64 231.89 398.55 235.10 392.73 237.47 C387.79 239.49 383.55 241.09 379.13 243.33 C374.67 245.59 370.01 248.51 366.10 250.98 C362.78 253.07 359.80 254.69 357.09 257.09 C354.36 259.52 352.05 262.40 349.81 265.50 C347.42 268.82 345.23 272.94 343.30 276.46 C341.57 279.62 339.94 282.41 338.70 285.63 C337.43 288.94 336.87 292.40 335.83 296.08 C334.65 300.24 333.40 304.96 332.00 309.33 C330.59 313.71 329.46 318.42 327.40 322.33 C325.45 326.02 323.02 329.33 320.12 332.27 C317.11 335.30 313.09 337.53 309.58 340.17 C316.73 338.21 324.25 336.77 331.04 334.31 C337.50 331.96 343.55 329.07 349.43 325.90 C355.23 322.77 361.40 318.45 366.10 315.45 C369.57 313.23 372.32 311.98 375.11 309.59 C378.09 307.03 381.08 303.93 383.34 300.41 C385.74 296.68 387.38 291.72 388.90 287.67 C390.24 284.12 391.22 280.87 392.16 277.48 C393.07 274.16 393.65 270.93 394.46 267.54 C395.31 263.97 396.00 260.03 397.14 256.58 C398.20 253.35 399.47 250.42 400.97 247.41 C402.52 244.30 404.19 241.00 406.34 238.23 C408.47 235.48 411.17 232.72 413.81 230.84 C416.12 229.20 418.66 228.47 421.09 227.28 Z" fill="none" stroke="#068806" stroke-width="1.80" stroke-linejoin="round"/>
<path d="M444.08 218.61 C439.48 219.63 435.19 220.38 430.29 221.67 C424.57 223.17 418.05 225.19 411.89 227.28 C405.54 229.43 398.53 231.98 392.73 234.41 C387.76 236.50 383.59 238.56 379.13 240.78 C374.71 242.98 370.18 245.17 366.10 247.66 C362.22 250.03 358.32 252.52 355.18 255.31 C352.34 257.83 350.07 260.33 347.90 263.46 C345.48 266.95 343.46 271.58 341.58 275.44 C339.86 278.95 338.25 282.12 336.98 285.63 C335.69 289.17 334.98 292.80 333.91 296.59 C332.76 300.68 331.63 305.09 330.27 309.33 C328.89 313.67 327.81 318.53 325.67 322.33 C323.70 325.85 321.13 328.70 318.20 331.50 C315.06 334.51 311.39 336.94 307.28 339.66 C302.39 342.89 296.17 346.11 290.61 349.34 C297.95 347.39 305.65 345.48 312.64 343.48 C319.07 341.65 324.97 340.13 331.04 337.87 C337.24 335.56 343.57 332.88 349.43 329.72 C355.25 326.59 361.27 322.66 366.10 319.02 C370.20 315.93 373.55 312.80 376.83 309.59 C379.90 306.59 382.99 303.95 385.26 300.41 C387.65 296.69 389.13 291.71 390.62 287.67 C391.94 284.12 392.92 280.87 393.88 277.48 C394.83 274.16 395.53 270.94 396.37 267.54 C397.26 263.98 398.01 260.21 399.06 256.58 C400.11 252.91 401.12 249.03 402.70 245.62 C404.21 242.34 405.88 239.16 408.25 236.45 C410.74 233.61 413.97 231.17 417.45 229.06 C421.24 226.77 425.90 225.18 430.29 223.45 C434.77 221.69 439.48 220.23 444.08 218.61 Z" fill="none" stroke="#d90000" stroke-width="2.00" stroke-linejoin="round"/>
<path d="M386.03 276.46 C379.38 278.58 372.58 280.47 366.10 282.83 C359.75 285.15 353.71 287.93 347.51 290.48 C353.71 288.61 359.86 287.12 366.10 284.87 C372.69 282.49 379.38 279.26 386.03 276.46 Z" fill="none" stroke="#b300b3" stroke-width="2.40" stroke-linejoin="round"/>
<rect x="270.30" y="207.40" width="191.60" height="152.90" fill="none" stroke="#1e1e1e" stroke-width="1.3"/>
<line x1="270.30" y1="360.30" x2="270.30" y2="357.10" stroke="#2a2a2a" stroke-width="1.1"/>
<text x="270.30" y="371.50" font-size="9" text-anchor="middle">-5</text>
<line x1="279.88" y1="360.30" x2="279.88" y2="358.50" stroke="#2a2a2a" stroke-width="1.1"/>
<line x1="289.46" y1="360.30" x2="289.46" y2="357.10" stroke="#2a2a2a" stroke-width="1.1"/>
<text x="289.46" y="371.50" font-size="9" text-anchor="middle">-4</text>
<line x1="299.04" y1="360.30" x2="299.04" y2="358.50" stroke="#2a2a2a" stroke-width="1.1"/>
<line x1="308.62" y1="360.30" x2="308.62" y2="357.10" stroke="#2a2a2a" stroke-width="1.1"/>
<text x="308.62" y="371.50" font-size="9" text-anchor="middle">-3</text>
<line x1="318.20" y1="360.30" x2="318.20" y2="358.50" stroke="#2a2a2a" stroke-width="1.1"/>
<line x1="327.78" y1="360.30" x2="327.78" y2="357.10" stroke="#2a2a2a" stroke-width="1.1"/>
<text x="327.78" y="371.50" font-size="9" text-anchor="middle">-2</text>
<line x1="337.36" y1="360.30" x2="337.36" y2="358.50" stroke="#2a2a2a" stroke-width="1.1"/>
<line x1="346.94" y1="360.30" x2="346.94" y2="357.10" stroke="#2a2a2a" stroke-width="1.1"/>
<text x="346.94" y="371.50" font-size="9" text-anchor="middle">-1</text>
<line x1="356.52" y1="360.30" x2="356.52" y2="358.50" stroke="#2a2a2a" stroke-width="1.1"/>
<line x1="366.10" y1="360.30" x2="366.10" y2="357.10" stroke="#2a2a2a" stroke-width="1.1"/>
<text x="366.10" y="371.50" font-size="9" text-anchor="middle">0</text>
<line x1="375.68" y1="360.30" x2="375.68" y2="358.50" stroke="#2a2a2a" stroke-width="1.1"/>
<line x1="385.26" y1="360.30" x2="385.26" y2="357.10" stroke="#2a2a2a" stroke-width="1.1"/>
<text x="385.26" y="371.50" font-size="9" text-anchor="middle">1</text>
<line x1="394.84" y1="360.30" x2="394.84" y2="358.50" stroke="#2a2a2a" stroke-width="1.1"/>
<line x1="404.42" y1="360.30" x2="404.42" y2="357.10" stroke="#2a2a2a" stroke-width="1.1"/>
<text x="404.42" y="371.50" font-size="9" text-anchor="middle">2</text>
<line x1="414.00" y1="360.30" x2="414.00" y2="358.50" stroke="#2a2a2a" stroke-width="1.1"/>
<line x1="423.58" y1="360.30" x2="423.58" y2="357.10" stroke="#2a2a2a" stroke-width="1.1"/>
<text x="423.58" y="371.50" font-size="9" text-anchor="middle">3</text>
<line x1="433.16" y1="360.30" x2="433.16" y2="358.50" stroke="#2a2a2a" stroke-width="1.1"/>
<line x1="442.74" y1="360.30" x2="442.74" y2="357.10" stroke="#2a2a2a" stroke-width="1.1"/>
<text x="442.74" y="371.50" font-size="9" text-anchor="middle">4</text>
<line x1="452.32" y1="360.30" x2="452.32" y2="358.50" stroke="#2a2a2a" stroke-width="1.1"/>
<line x1="461.90" y1="360.30" x2="461.90" y2="357.10" stroke="#2a2a2a" stroke-width="1.1"/>
<text x="461.90" y="371.50" font-size="9" text-anchor="middle">5</text>
<line x1="270.30" y1="360.30" x2="273.50" y2="360.30" stroke="#2a2a2a" stroke-width="1.1"/>
<text x="267.10" y="363.40" font-size="9" text-anchor="end">-30</text>
<line x1="270.30" y1="347.56" x2="272.10" y2="347.56" stroke="#2a2a2a" stroke-width="1.1"/>
<line x1="270.30" y1="334.82" x2="273.50" y2="334.82" stroke="#2a2a2a" stroke-width="1.1"/>
<text x="267.10" y="337.92" font-size="9" text-anchor="end">-20</text>
<line x1="270.30" y1="322.08" x2="272.10" y2="322.08" stroke="#2a2a2a" stroke-width="1.1"/>
<line x1="270.30" y1="309.33" x2="273.50" y2="309.33" stroke="#2a2a2a" stroke-width="1.1"/>
<text x="267.10" y="312.43" font-size="9" text-anchor="end">-10</text>
<line x1="270.30" y1="296.59" x2="272.10" y2="296.59" stroke="#2a2a2a" stroke-width="1.1"/>
<line x1="270.30" y1="283.85" x2="273.50" y2="283.85" stroke="#2a2a2a" stroke-width="1.1"/>
<text x="267.10" y="286.95" font-size="9" text-anchor="end">0</text>
<line x1="270.30" y1="271.11" x2="272.10" y2="271.11" stroke="#2a2a2a" stroke-width="1.1"/>
<line x1="270.30" y1="258.37" x2="273.50" y2="258.37" stroke="#2a2a2a" stroke-width="1.1"/>
<text x="267.10" y="261.47" font-size="9" text-anchor="end">10</text>
<line x1="270.30" y1="245.62" x2="272.10" y2="245.62" stroke="#2a2a2a" stroke-width="1.1"/>
<line x1="270.30" y1="232.88" x2="273.50" y2="232.88" stroke="#2a2a2a" stroke-width="1.1"/>
<text x="267.10" y="235.98" font-size="9" text-anchor="end">20</text>
<line x1="270.30" y1="220.14" x2="272.10" y2="220.14" stroke="#2a2a2a" stroke-width="1.1"/>
<line x1="270.30" y1="207.40" x2="273.50" y2="207.40" stroke="#2a2a2a" stroke-width="1.1"/>
<text x="267.10" y="210.50" font-size="9" text-anchor="end">30</text>
<text x="366.10" y="387.70" font-size="11" text-anchor="middle">Voltage (V)</text>
<text transform="translate(245.30 279.00) rotate(-90)" font-size="10.8" text-anchor="middle">Polarization (μC/cm<tspan font-size="7" dy="-4">2</tspan><tspan dy="4">)</tspan></text>
<text x="281.70" y="221.30" font-size="10"><tspan letter-spacing="-0.15">TiN</tspan><tspan font-size="5.8" dy="-4" dx="-0.2">#</tspan><tspan dy="4" dx="-0.1" letter-spacing="-0.15">/HZO</tspan><tspan dx="4.4">capacitor</tspan></text>
<text x="281.70" y="232.50" font-size="10">wake-up</text>
<text x="240.10" y="200.50" font-size="14.6">(e)</text>
</g>
<g>
<line x1="502.00" y1="283.85" x2="693.60" y2="283.85" stroke="#666" stroke-width="1.4" stroke-dasharray="1.9 1.82" stroke-dashoffset="-0.6"/>
<line x1="597.80" y1="207.40" x2="597.80" y2="360.30" stroke="#666" stroke-width="1.4" stroke-dasharray="1.9 1.78" stroke-dashoffset="0.9"/>
<path d="M637.08 267.95 C634.71 268.36 632.46 268.65 629.99 269.17 C627.25 269.75 624.16 270.53 621.37 271.31 C618.68 272.06 616.54 272.82 613.51 273.76 C609.36 275.05 603.93 276.64 598.76 278.35 C592.95 280.26 585.84 282.27 580.36 284.77 C575.59 286.94 570.88 289.34 567.53 292.11 C564.81 294.34 563.31 297.00 561.20 299.45 C563.31 299.14 565.10 299.21 567.53 298.53 C571.11 297.52 575.69 294.96 580.36 293.02 C585.93 290.72 592.97 288.04 598.76 285.68 C603.95 283.57 608.78 281.62 613.51 279.57 C617.96 277.64 622.29 275.77 626.35 273.76 C630.12 271.89 633.50 269.89 637.08 267.95 Z" fill="none" stroke="#1262b0" stroke-width="1.80" stroke-linejoin="round"/>
<path d="M656.05 236.15 C652.66 236.76 649.76 237.18 645.89 237.98 C640.65 239.06 633.58 240.50 627.50 242.26 C621.32 244.05 614.49 246.80 609.10 248.68 C604.88 250.16 601.62 251.35 597.80 252.66 C593.89 254.00 589.79 254.58 585.92 256.63 C581.53 258.96 576.47 262.54 573.08 266.42 C569.84 270.13 567.82 275.12 565.80 279.26 C564.01 282.94 562.67 286.07 561.40 289.97 C559.93 294.42 559.01 299.92 557.76 304.64 C556.58 309.08 555.68 313.80 554.12 317.49 C552.82 320.55 551.58 323.18 549.52 325.44 C547.35 327.81 544.02 329.31 541.28 331.25 C546.13 330.03 550.72 328.99 555.84 327.58 C561.63 325.98 568.12 324.05 574.23 322.08 C580.39 320.08 587.90 317.37 592.63 315.65 C595.61 314.57 597.08 314.01 599.91 312.90 C603.90 311.34 610.04 309.40 614.28 307.09 C618.03 305.04 621.66 302.68 624.24 300.06 C626.44 297.82 627.76 295.18 629.22 292.72 C630.61 290.39 631.80 288.19 632.86 285.68 C634.00 283.01 634.78 279.98 635.74 277.12 C636.69 274.27 637.65 271.41 638.61 268.56 C639.57 265.71 640.61 263.07 641.48 260.00 C642.48 256.51 642.97 251.99 644.17 248.68 C645.17 245.91 645.97 243.38 647.81 241.34 C649.81 239.12 653.30 237.88 656.05 236.15 Z" fill="none" stroke="#068806" stroke-width="1.80" stroke-linejoin="round"/>
<path d="M675.59 224.52 C671.82 224.93 668.50 225.17 664.29 225.75 C658.89 226.49 651.99 227.44 645.89 228.81 C639.72 230.19 633.58 231.94 627.50 234.00 C621.31 236.11 614.49 239.18 609.10 241.34 C604.88 243.04 601.37 244.25 597.80 245.93 C594.43 247.52 591.56 249.33 588.22 251.13 C584.57 253.09 580.17 254.69 576.72 257.25 C573.28 259.79 570.00 263.00 567.53 266.42 C565.12 269.75 563.46 273.56 561.97 277.43 C560.44 281.40 559.64 285.66 558.52 289.97 C557.34 294.51 556.30 299.41 555.07 304.03 C553.87 308.58 552.69 313.17 551.24 317.49 C549.86 321.62 548.74 325.96 546.64 329.41 C544.70 332.62 542.20 335.67 539.36 337.67 C536.67 339.57 533.07 340.28 530.17 341.34 C527.61 342.28 525.31 342.97 522.88 343.79 C527.80 342.56 532.49 341.62 537.64 340.12 C543.42 338.43 549.76 336.08 555.84 334.00 C561.96 331.90 568.59 329.71 574.23 327.58 C579.13 325.73 583.45 323.81 587.84 322.08 C591.92 320.46 595.39 319.23 599.72 317.49 C604.99 315.36 612.28 312.91 617.15 310.15 C621.09 307.91 624.43 305.61 627.11 302.81 C629.56 300.25 631.27 297.18 632.86 294.25 C634.37 291.46 635.41 288.56 636.50 285.68 C637.58 282.85 638.45 279.98 639.38 277.12 C640.30 274.27 641.15 271.46 642.06 268.56 C643.00 265.55 644.01 262.45 644.93 259.39 C645.86 256.33 646.66 253.15 647.62 250.21 C648.52 247.45 649.29 244.89 650.49 242.26 C651.76 239.48 652.90 236.26 655.09 234.00 C657.41 231.60 660.98 230.05 664.29 228.50 C667.78 226.86 671.82 225.85 675.59 224.52 Z" fill="none" stroke="#d90000" stroke-width="2.00" stroke-linejoin="round"/>
<path d="M616.19 277.43 C610.06 279.36 603.99 281.27 597.80 283.24 C591.48 285.25 585.03 287.32 578.64 289.35 C585.03 287.83 591.55 286.75 597.80 284.77 C604.07 282.78 610.06 279.87 616.19 277.43 Z" fill="none" stroke="#b300b3" stroke-width="1.80" stroke-linejoin="round"/>
<rect x="502.00" y="207.40" width="191.60" height="152.90" fill="none" stroke="#1e1e1e" stroke-width="1.3"/>
<line x1="502.00" y1="360.30" x2="502.00" y2="357.10" stroke="#2a2a2a" stroke-width="1.1"/>
<text x="502.00" y="371.50" font-size="9" text-anchor="middle">-5</text>
<line x1="511.58" y1="360.30" x2="511.58" y2="358.50" stroke="#2a2a2a" stroke-width="1.1"/>
<line x1="521.16" y1="360.30" x2="521.16" y2="357.10" stroke="#2a2a2a" stroke-width="1.1"/>
<text x="521.16" y="371.50" font-size="9" text-anchor="middle">-4</text>
<line x1="530.74" y1="360.30" x2="530.74" y2="358.50" stroke="#2a2a2a" stroke-width="1.1"/>
<line x1="540.32" y1="360.30" x2="540.32" y2="357.10" stroke="#2a2a2a" stroke-width="1.1"/>
<text x="540.32" y="371.50" font-size="9" text-anchor="middle">-3</text>
<line x1="549.90" y1="360.30" x2="549.90" y2="358.50" stroke="#2a2a2a" stroke-width="1.1"/>
<line x1="559.48" y1="360.30" x2="559.48" y2="357.10" stroke="#2a2a2a" stroke-width="1.1"/>
<text x="559.48" y="371.50" font-size="9" text-anchor="middle">-2</text>
<line x1="569.06" y1="360.30" x2="569.06" y2="358.50" stroke="#2a2a2a" stroke-width="1.1"/>
<line x1="578.64" y1="360.30" x2="578.64" y2="357.10" stroke="#2a2a2a" stroke-width="1.1"/>
<text x="578.64" y="371.50" font-size="9" text-anchor="middle">-1</text>
<line x1="588.22" y1="360.30" x2="588.22" y2="358.50" stroke="#2a2a2a" stroke-width="1.1"/>
<line x1="597.80" y1="360.30" x2="597.80" y2="357.10" stroke="#2a2a2a" stroke-width="1.1"/>
<text x="597.80" y="371.50" font-size="9" text-anchor="middle">0</text>
<line x1="607.38" y1="360.30" x2="607.38" y2="358.50" stroke="#2a2a2a" stroke-width="1.1"/>
<line x1="616.96" y1="360.30" x2="616.96" y2="357.10" stroke="#2a2a2a" stroke-width="1.1"/>
<text x="616.96" y="371.50" font-size="9" text-anchor="middle">1</text>
<line x1="626.54" y1="360.30" x2="626.54" y2="358.50" stroke="#2a2a2a" stroke-width="1.1"/>
<line x1="636.12" y1="360.30" x2="636.12" y2="357.10" stroke="#2a2a2a" stroke-width="1.1"/>
<text x="636.12" y="371.50" font-size="9" text-anchor="middle">2</text>
<line x1="645.70" y1="360.30" x2="645.70" y2="358.50" stroke="#2a2a2a" stroke-width="1.1"/>
<line x1="655.28" y1="360.30" x2="655.28" y2="357.10" stroke="#2a2a2a" stroke-width="1.1"/>
<text x="655.28" y="371.50" font-size="9" text-anchor="middle">3</text>
<line x1="664.86" y1="360.30" x2="664.86" y2="358.50" stroke="#2a2a2a" stroke-width="1.1"/>
<line x1="674.44" y1="360.30" x2="674.44" y2="357.10" stroke="#2a2a2a" stroke-width="1.1"/>
<text x="674.44" y="371.50" font-size="9" text-anchor="middle">4</text>
<line x1="684.02" y1="360.30" x2="684.02" y2="358.50" stroke="#2a2a2a" stroke-width="1.1"/>
<line x1="693.60" y1="360.30" x2="693.60" y2="357.10" stroke="#2a2a2a" stroke-width="1.1"/>
<text x="693.60" y="371.50" font-size="9" text-anchor="middle">5</text>
<line x1="502.00" y1="360.30" x2="503.80" y2="360.30" stroke="#2a2a2a" stroke-width="1.1"/>
<line x1="502.00" y1="345.01" x2="505.20" y2="345.01" stroke="#2a2a2a" stroke-width="1.1"/>
<text x="498.80" y="348.11" font-size="9" text-anchor="end">-20</text>
<line x1="502.00" y1="329.72" x2="503.80" y2="329.72" stroke="#2a2a2a" stroke-width="1.1"/>
<line x1="502.00" y1="314.43" x2="505.20" y2="314.43" stroke="#2a2a2a" stroke-width="1.1"/>
<text x="498.80" y="317.53" font-size="9" text-anchor="end">-10</text>
<line x1="502.00" y1="299.14" x2="503.80" y2="299.14" stroke="#2a2a2a" stroke-width="1.1"/>
<line x1="502.00" y1="283.85" x2="505.20" y2="283.85" stroke="#2a2a2a" stroke-width="1.1"/>
<text x="498.80" y="286.95" font-size="9" text-anchor="end">0</text>
<line x1="502.00" y1="268.56" x2="503.80" y2="268.56" stroke="#2a2a2a" stroke-width="1.1"/>
<line x1="502.00" y1="253.27" x2="505.20" y2="253.27" stroke="#2a2a2a" stroke-width="1.1"/>
<text x="498.80" y="256.37" font-size="9" text-anchor="end">10</text>
<line x1="502.00" y1="237.98" x2="503.80" y2="237.98" stroke="#2a2a2a" stroke-width="1.1"/>
<line x1="502.00" y1="222.69" x2="505.20" y2="222.69" stroke="#2a2a2a" stroke-width="1.1"/>
<text x="498.80" y="225.79" font-size="9" text-anchor="end">20</text>
<line x1="502.00" y1="207.40" x2="503.80" y2="207.40" stroke="#2a2a2a" stroke-width="1.1"/>
<text x="597.80" y="387.70" font-size="11" text-anchor="middle">Voltage (V)</text>
<text transform="translate(476.80 279.00) rotate(-90)" font-size="10.8" text-anchor="middle">Polarization (μC/cm<tspan font-size="7" dy="-4">2</tspan><tspan dy="4">)</tspan></text>
<text x="515.40" y="221.00" font-size="10"><tspan letter-spacing="-0.15">ITO</tspan><tspan font-size="5.8" dy="-4" dx="-0.2">#</tspan><tspan dy="4" dx="-0.1" letter-spacing="-0.15">/HZO</tspan><tspan dx="4.4">capacitor</tspan></text>
<text x="515.40" y="232.40" font-size="10">wake-up</text>
<text x="480.90" y="200.30" font-size="14.6">(f)</text>
</g>
</svg></body></html>
